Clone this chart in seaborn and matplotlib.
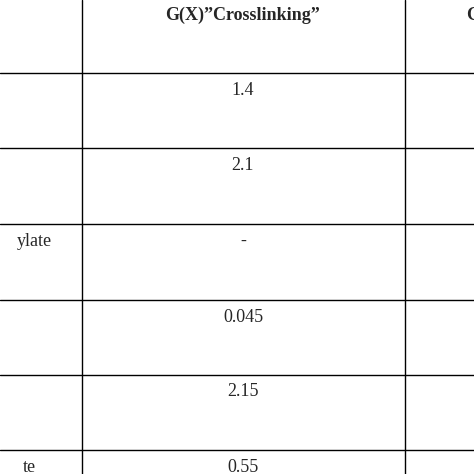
import matplotlib
matplotlib.use("Agg")
import matplotlib.pyplot as plt
import seaborn as sns

sns.set_style("white")
plt.rcParams['font.family'] = ['Liberation Serif', 'DejaVu Serif']

header_mid = 'G(X)\u201dCrosslinking\u201d'
header_right = 'G'
left_labels = ['', '', 'ylate', '', '', 'te']
values = ['1.4', '2.1', '-', '0.045', '2.15', '0.55']

fig = plt.figure(figsize=(4.74, 4.74), dpi=100)
ax = fig.add_axes([0, 0, 1, 1])
ax.set_xlim(0, 474)
ax.set_ylim(474, 0)
ax.axis('off')

row_tops = [73, 148, 224, 300, 375, 450]
lw = 1.0
for y in row_tops:
    ax.axhline(y, color='black', lw=lw)
for x in [82, 405]:
    ax.axvline(x, color='black', lw=lw)

fs = 13
ax.text(243, 15, header_mid, ha='center', va='center', fontsize=fs, fontweight='bold')
ax.text(466, 15, header_right, ha='left', va='center', fontsize=fs, fontweight='bold')
for top, v, lab in zip(row_tops, values, left_labels):
    ax.text(243, top + 17, v, ha='center', va='center', fontsize=fs)
    if lab:
        ax.text(52 if lab == 'ylate' else 36, top + 17, lab, ha='right', va='center', fontsize=fs)

fig.savefig('out.png', dpi=100)
